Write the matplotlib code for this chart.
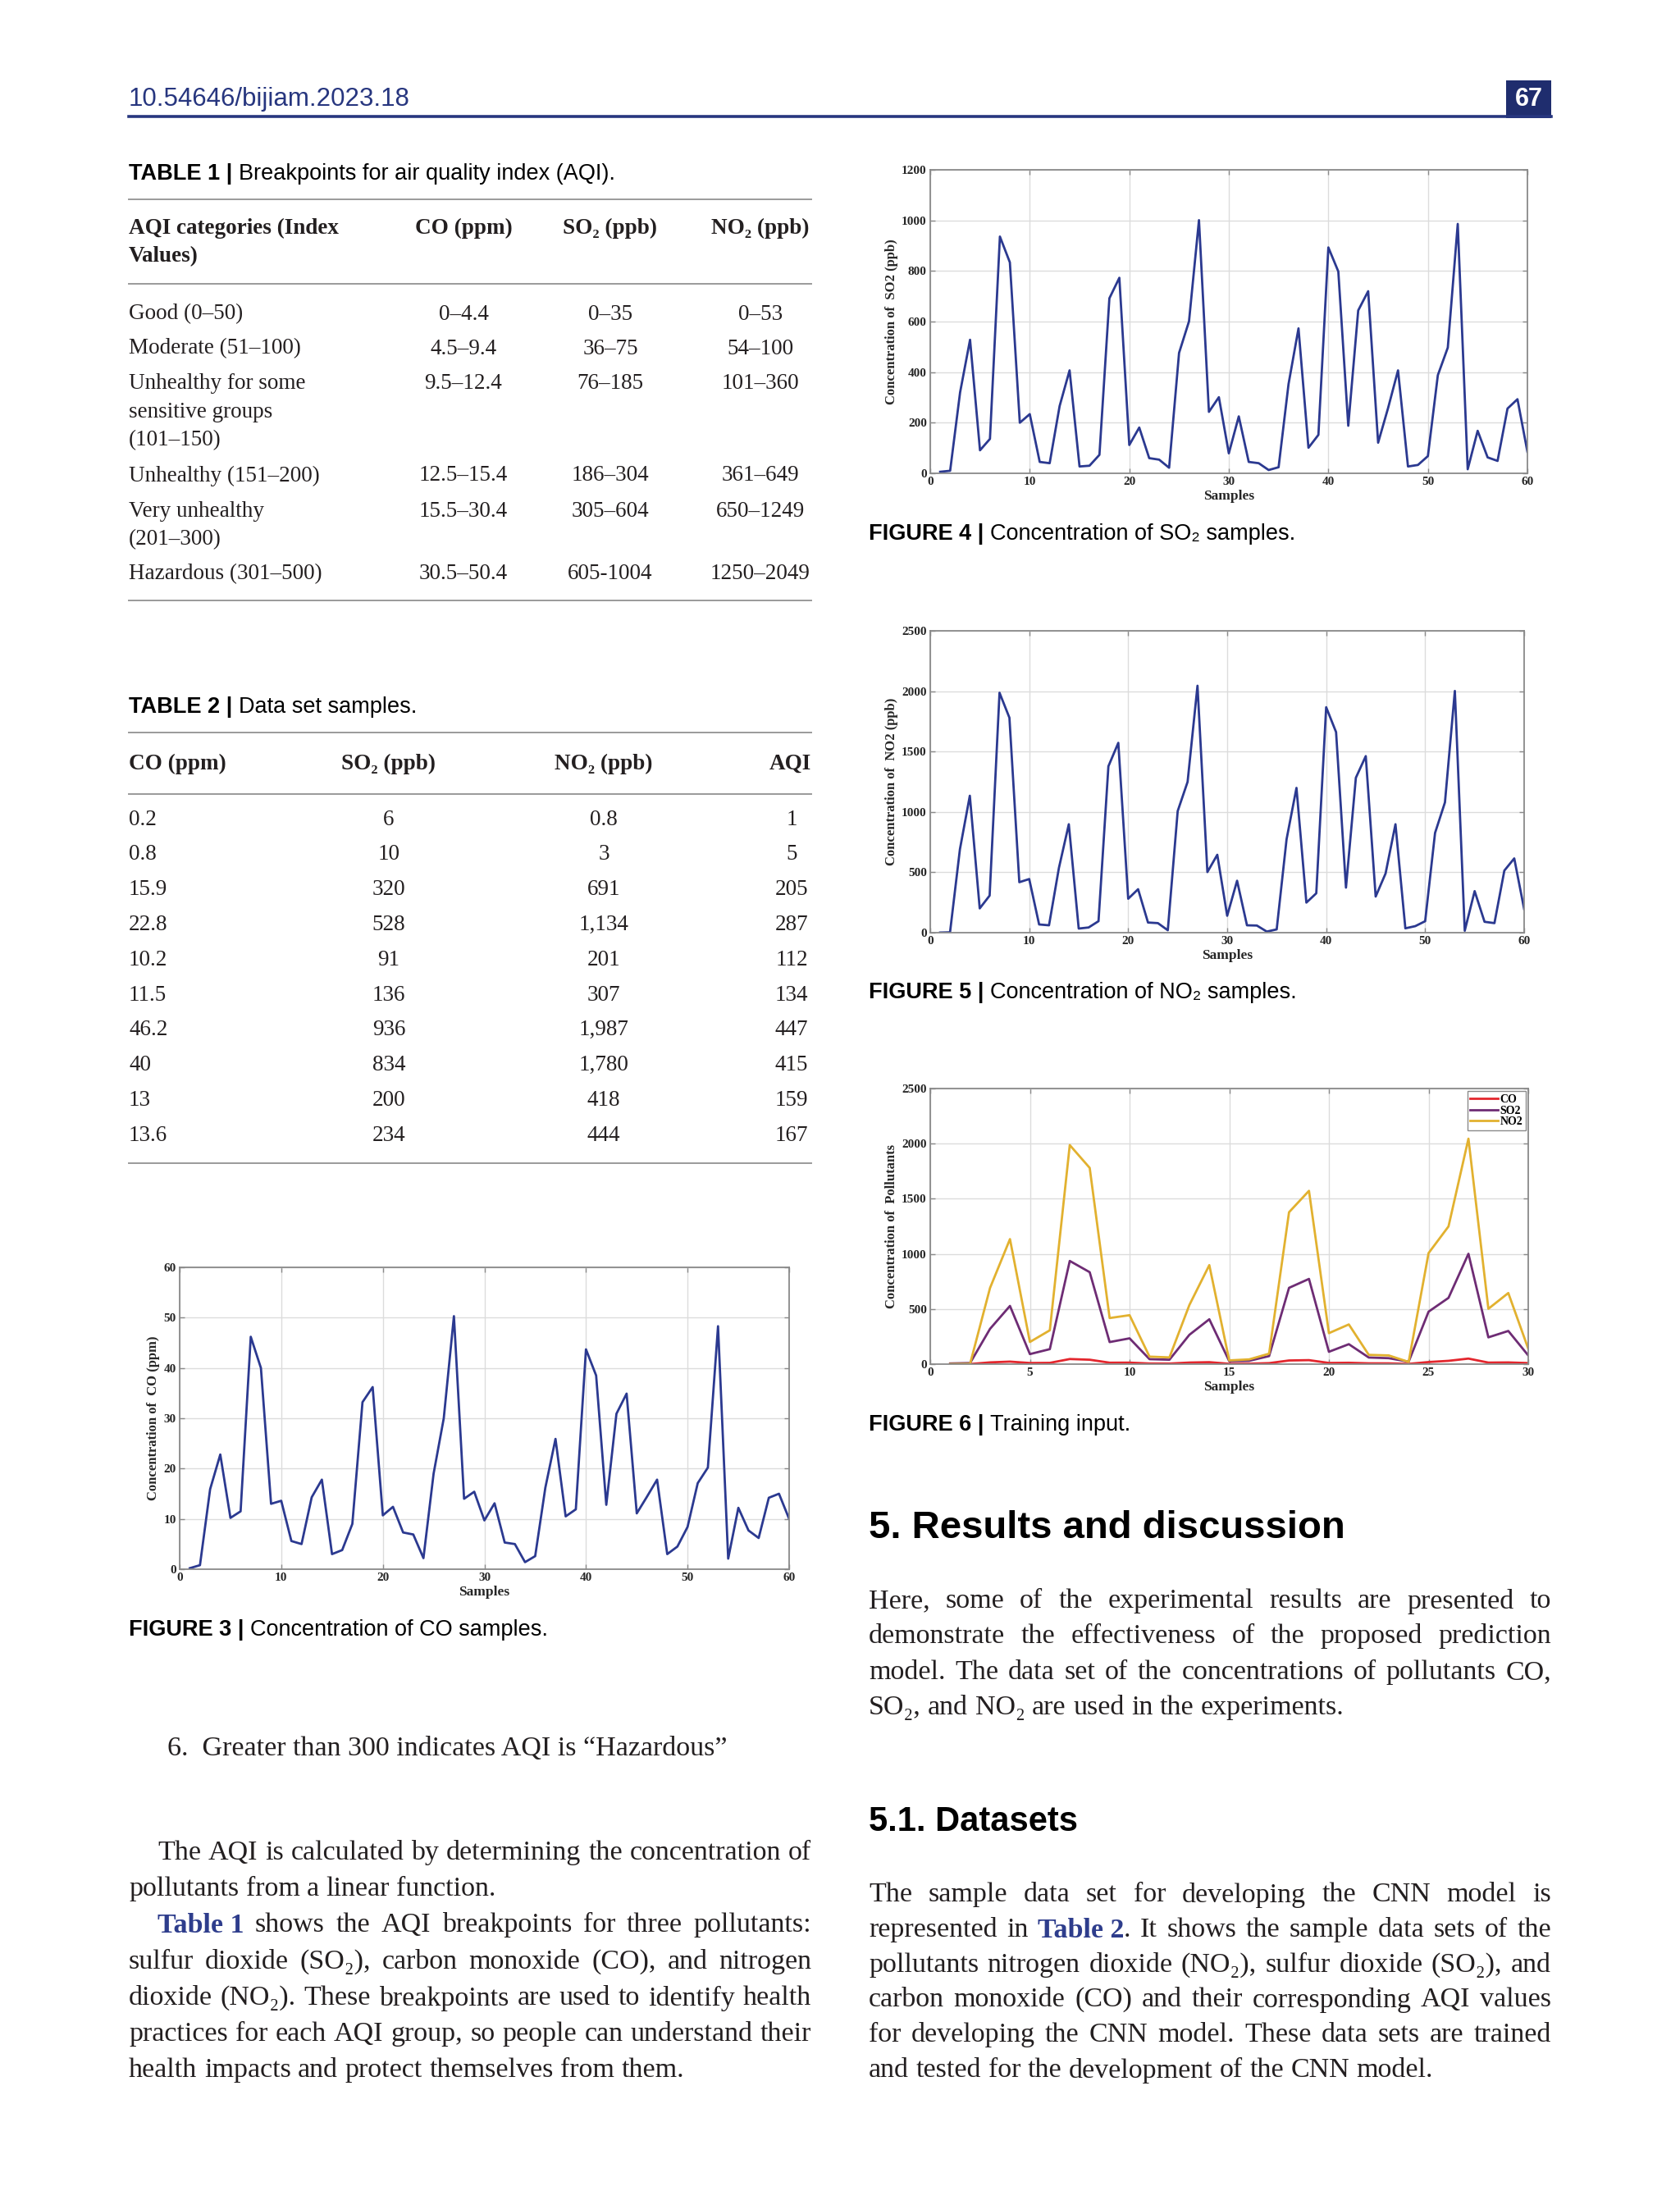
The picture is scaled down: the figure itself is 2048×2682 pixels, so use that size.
import re
import matplotlib
matplotlib.use('Agg')
import matplotlib.pyplot as plt
from matplotlib.font_manager import FontProperties, fontManager
from matplotlib.patches import Rectangle
from matplotlib.lines import Line2D

W, H, DPI = 2048, 2682, 100

# ---------------- data ----------------
samples = list(range(1, 61))
co_ppm = [0.2, 0.8, 15.9, 22.8, 10.2, 11.5, 46.2, 40, 13, 13.6,
          5.6, 5.0, 14.3, 17.8, 3.0, 3.8, 9.0, 33.2, 36.2, 10.7,
          12.4, 7.3, 6.9, 2.2, 19.0, 30.0, 50.3, 14.0, 15.4, 9.7,
          13.1, 5.3, 5.0, 1.4, 2.6, 16.2, 25.9, 10.5, 11.9, 43.7,
          38.5, 12.8, 30.9, 34.9, 11.1, 14.4, 17.8, 3.0, 4.5, 8.4,
          17.1, 20.2, 48.3, 2.1, 12.2, 7.7, 6.2, 14.2, 15.0, 10.0]
so2_ppb = [6, 10, 320, 528, 91, 136, 936, 834, 200, 234,
           45, 40, 266, 407, 27, 30, 73, 692, 773, 112,
           181, 60, 54, 22, 476, 601, 1001, 243, 301, 79,
           225, 45, 40, 13, 24, 353, 573, 101, 152, 893,
           798, 188, 644, 720, 121, 258, 407, 27, 33, 68,
           388, 497, 986, 16, 168, 63, 49, 256, 293, 85]
no2_ppb = [0.8, 3, 691, 1134, 201, 307, 1987, 1780, 418, 444,
           68, 61, 536, 898, 34, 43, 95, 1378, 1572, 281,
           360, 84, 79, 20, 1007, 1249, 2045, 502, 645, 140,
           430, 61, 59, 9, 27, 774, 1199, 249, 326, 1867,
           1661, 373, 1283, 1462, 299, 490, 898, 36, 54, 95,
           826, 1079, 2002, 16, 344, 90, 79, 514, 615, 195]
aqi_vals = [1, 5, 205, 287, 112, 134, 447, 415, 159, 167]
training_n = 30

t1_headers = ["AQI categories (Index\nValues)", "CO (ppm)", "SO₂ (ppb)", "NO₂ (ppb)"]
t1_categories = ["Good (0–50)", "Moderate (51–100)",
                 "Unhealthy for some\nsensitive groups\n(101–150)",
                 "Unhealthy (151–200)", "Very unhealthy\n(201–300)",
                 "Hazardous (301–500)"]
t1_co = ["0–4.4", "4.5–9.4", "9.5–12.4", "12.5–15.4", "15.5–30.4", "30.5–50.4"]
t1_so2 = ["0–35", "36–75", "76–185", "186–304", "305–604", "605-1004"]
t1_no2 = ["0–53", "54–100", "101–360", "361–649", "650–1249", "1250–2049"]
t2_headers = ["CO (ppm)", "SO₂ (ppb)", "NO₂ (ppb)", "AQI"]

# ---------------- fonts ----------------
_names = {f.name for f in fontManager.ttflist}
SANS = (['Liberation Sans Narrow'] if 'Liberation Sans Narrow' in _names else []) + ['Liberation Sans', 'DejaVu Sans']
SERIF = ['Liberation Serif', 'DejaVu Serif']
INK = '#231f20'
NAVY = '#27367f'
LINK = '#2e3d8c'

fig = plt.figure(figsize=(W / DPI, H / DPI), dpi=DPI)
fig.patch.set_facecolor('white')
renderer = fig.canvas.get_renderer()


def width(s, fp):
    w, h, d = renderer.get_text_width_height_descent(s, fp, ismath=False)
    return w


def T(x, y, s, fp, color=INK, ha='left', va='center', **kw):
    return fig.text(x / W, 1 - y / H, s, fontproperties=fp, color=color, ha=ha, va=va, **kw)


def hline(x0, x1, y, color='#9a9a9a', lw=1.4):
    fig.add_artist(Line2D([x0 / W, x1 / W], [1 - y / H, 1 - y / H], color=color, lw=lw,
                          transform=fig.transFigure))


CAP = 19.5


def caption(x, y, bold, rest, size=CAP):
    fb = FontProperties(family=SANS, size=size, weight='bold')
    fn = FontProperties(family=SANS, size=size)
    T(x, y, bold, fb, color='black')
    T(x + width(bold, fb), y, rest, fn, color='black')


TOKEN = re.compile(r'\{[^}]*\}\S*|\S+')


def parts(tok):
    m = re.match(r'\{([^}]*)\}(.*)', tok)
    if m:
        out = [(m.group(1), True)]
        if m.group(2):
            out.append((m.group(2), False))
        return out
    return [(tok, False)]


def paragraph(lines, x0, x1, ys, size, indent_lines=(), last_lines=(), indent=35):
    fpn = FontProperties(family=SERIF, size=size)
    fpl = FontProperties(family=SERIF, size=size, weight='bold')
    space = width('a a', fpn) - width('aa', fpn)
    for i, (line, y) in enumerate(zip(lines, ys)):
        xs = x0 + (indent if i in indent_lines else 0)
        toks = [parts(t) for t in TOKEN.findall(line)]
        tw = [sum(width(p, fpl if lk else fpn) for p, lk in tk) for tk in toks]
        if i in last_lines or len(toks) < 2:
            gap = space
        else:
            gap = (x1 - xs - sum(tw)) / (len(toks) - 1)
        x = xs
        for tk, w_ in zip(toks, tw):
            xx = x
            for p, lk in tk:
                fp = fpl if lk else fpn
                T(xx, y, p, fp, color=LINK if lk else INK)
                xx += width(p, fp)
            x += w_ + gap


# ---------------- header ----------------
T(157, 121, "10.54646/bijiam.2023.18", FontProperties(family=SANS, size=22.5), color=NAVY)
hline(157, 1891, 142, color=NAVY, lw=2.6)
fig.add_artist(Rectangle((1836 / W, 1 - 144 / H), 55 / W, 46 / H, transform=fig.transFigure,
                         facecolor='#1f2d6e', edgecolor='none'))
T(1863.5, 121, "67", FontProperties(family=SANS, size=22, weight='bold'), color='white', ha='center')

# ---------------- table 1 ----------------
TS = 19.5
fpt = FontProperties(family=SERIF, size=TS)
fptb = FontProperties(family=SERIF, size=TS, weight='bold')
caption(157, 212, "TABLE 1 | ", "Breakpoints for air quality index (AQI).")
hline(157, 989, 243)
hline(157, 989, 346)
hline(157, 989, 732)
t1_cols = [565, 744, 927]
t1_head_y = 278
t1_line = 34.5
for k, line in enumerate(t1_headers[0].split('\n')):
    T(157, t1_head_y + k * t1_line, line, fptb)
for cx, hd in zip(t1_cols, t1_headers[1:]):
    T(cx, t1_head_y, hd, fptb, ha='center')
t1_row_y = [383, 425, 468, 580, 623, 700]
for ry, cat, a, b, c in zip(t1_row_y, t1_categories, t1_co, t1_so2, t1_no2):
    for k, line in enumerate(cat.split('\n')):
        T(157, ry + k * t1_line, line, fpt)
    for cx, v in zip(t1_cols, (a, b, c)):
        T(cx, ry, v, fpt, ha='center')

# ---------------- table 2 ----------------
caption(157, 862, "TABLE 2 | ", "Data set samples.")
hline(157, 989, 893)
hline(157, 989, 968)
hline(157, 989, 1418)
T(157, 931, t2_headers[0], fptb)
T(474, 931, t2_headers[1], fptb, ha='center')
T(736, 931, t2_headers[2], fptb, ha='center')
T(989, 931, t2_headers[3], fptb, ha='right')


def fmt(v):
    return f"{v:,.0f}" if float(v).is_integer() else f"{v:g}"


for i in range(10):
    y = 999 + i * 42.8
    T(157, y, fmt(co_ppm[i]), fpt)
    T(474, y, fmt(so2_ppb[i]), fpt, ha='center')
    T(736, y, fmt(no2_ppb[i]), fpt, ha='center')
    T(965, y, fmt(aqi_vals[i]), fpt, ha='center')

# ---------------- plots ----------------
TICKFP = dict(family=SERIF, weight='bold', size=11)
LINE_BLUE = '#2b3990'


def make_ax(l, r, t, b, xlim, xticks, ylim, yticks, ylabel):
    ax = fig.add_axes([l / W, 1 - b / H, (r - l) / W, (b - t) / H])
    ax.set_xlim(*xlim)
    ax.set_ylim(*ylim)
    ax.set_xticks(xticks)
    ax.set_yticks(yticks)
    ax.grid(True, color='#dcdcdc', lw=1.0)
    ax.set_axisbelow(True)
    for s in ax.spines.values():
        s.set_color('#8a8a8a')
        s.set_linewidth(1.3)
    ax.tick_params(direction='in', length=4, width=1, top=True, right=True,
                   color='#8a8a8a', labelcolor='#262626', pad=3)
    for lab in ax.get_xticklabels() + ax.get_yticklabels():
        lab.set_fontproperties(FontProperties(**TICKFP))
    ax.set_xlabel('Samples', fontproperties=FontProperties(family=SERIF, weight='bold', size=12.5),
                  color='#262626', labelpad=2)
    ax.set_ylabel(ylabel, fontproperties=FontProperties(family=SERIF, weight='bold', size=12),
                  color='#262626', labelpad=3)
    return ax


ax3 = make_ax(219, 962, 1545, 1913, (0, 60), range(0, 61, 10), (0, 60), range(0, 61, 10),
              'Concentration of  CO (ppm)')
ax3.plot(samples, co_ppm, color=LINE_BLUE, lw=2.0)
caption(157, 1987, "FIGURE 3 | ", "Concentration of CO samples.")

ax4 = make_ax(1134, 1862, 207, 577, (0, 60), range(0, 61, 10), (0, 1200), range(0, 1201, 200),
              'Concentration of  SO2 (ppb)')
ax4.plot(samples, so2_ppb, color=LINE_BLUE, lw=2.0)
caption(1059, 651, "FIGURE 4 | ", "Concentration of SO₂ samples.")

ax5 = make_ax(1134, 1858, 769, 1137, (0, 60), range(0, 61, 10), (0, 2500), range(0, 2501, 500),
              'Concentration of  NO2 (ppb)')
ax5.plot(samples, no2_ppb, color=LINE_BLUE, lw=2.0)
caption(1059, 1210, "FIGURE 5 | ", "Concentration of NO₂ samples.")

ax6 = make_ax(1134, 1863, 1327, 1663, (0, 30), range(0, 31, 5), (0, 2500), range(0, 2501, 500),
              'Concentration of  Pollutants')
ax6.plot(samples[:training_n], co_ppm[:training_n], color='#e3262d', lw=2.0, label='CO')
ax6.plot(samples[:training_n], so2_ppb[:training_n], color='#6e2c74', lw=2.0, label='SO2')
ax6.plot(samples[:training_n], no2_ppb[:training_n], color='#e2b12f', lw=2.0, label='NO2')
leg = ax6.legend(loc='upper right', prop=FontProperties(family=SERIF, weight='bold', size=10),
                 handlelength=2.4, handletextpad=0.2, borderpad=0.25, labelspacing=0.05,
                 borderaxespad=0.25, fancybox=False, framealpha=1)
leg.get_frame().set_edgecolor('#8a8a8a')
leg.get_frame().set_linewidth(1.0)
caption(1059, 1737, "FIGURE 6 | ", "Training input.")

# ---------------- body text ----------------
BS = 24.5
T(1059, 1863, "5. Results and discussion", FontProperties(family=SANS, size=34, weight='bold'), color='black')
T(1059, 2221, "5.1. Datasets", FontProperties(family=SANS, size=30, weight='bold'), color='black')

para_r1 = ["Here, some of the experimental results are presented to",
           "demonstrate the effectiveness of the proposed prediction",
           "model. The data set of the concentrations of pollutants CO,",
           "SO₂, and NO₂ are used in the experiments."]
paragraph(para_r1, 1059, 1891, [1952, 1995, 2039, 2082], BS, last_lines=(3,))

para_r2 = ["The sample data set for developing the CNN model is",
           "represented in {Table 2}. It shows the sample data sets of the",
           "pollutants nitrogen dioxide (NO₂), sulfur dioxide (SO₂), and",
           "carbon monoxide (CO) and their corresponding AQI values",
           "for developing the CNN model. These data sets are trained",
           "and tested for the development of the CNN model."]
paragraph(para_r2, 1059, 1891, [2310, 2353, 2396, 2438, 2481, 2524], BS, last_lines=(5,))

T(204, 2132, "6.  Greater than 300 indicates AQI is “Hazardous”", FontProperties(family=SERIF, size=BS))

para_l = ["The AQI is calculated by determining the concentration of",
          "pollutants from a linear function.",
          "{Table 1} shows the AQI breakpoints for three pollutants:",
          "sulfur dioxide (SO₂), carbon monoxide (CO), and nitrogen",
          "dioxide (NO₂). These breakpoints are used to identify health",
          "practices for each AQI group, so people can understand their",
          "health impacts and protect themselves from them."]
paragraph(para_l, 157, 989, [2259, 2303, 2347, 2392, 2436, 2480, 2524], BS,
          indent_lines=(0, 2), last_lines=(1, 6), indent=35)

fig.savefig('out.png', dpi=DPI, facecolor='white')
